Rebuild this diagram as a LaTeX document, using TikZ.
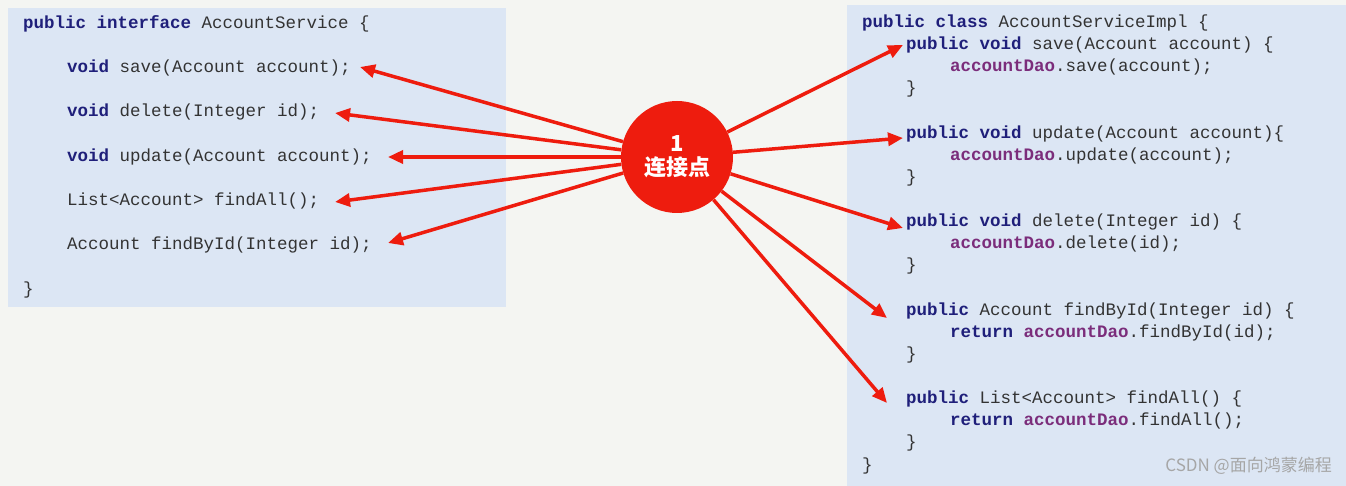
\documentclass[tikz,border=0pt]{standalone}
\usepackage{fontspec}
\setmonofont{Liberation Mono}
\newfontfamily\cjk{Noto Sans CJK SC}
\usetikzlibrary{arrows.meta}
\definecolor{bg}{HTML}{F4F5F2}
\definecolor{box}{HTML}{DCE6F4}
\definecolor{kw}{HTML}{1F1F7A}
\definecolor{dao}{HTML}{7B2D7B}
\definecolor{txt}{HTML}{333333}
\definecolor{jp}{HTML}{EE1C0E}
\newcommand{\K}[1]{{\bfseries\color{kw}#1}}
\newcommand{\D}[1]{{\bfseries\color{dao}#1}}
\tikzset{
 code/.style={anchor=west,inner sep=0pt,font=\ttfamily\fontsize{17.5}{20}\selectfont,text=txt},
 arr/.style={draw=jp,line width=3.5pt,-{Triangle[length=15pt,width=13pt]},shorten >=0pt},
}
\begin{document}
\begin{tikzpicture}[x=1pt,y=-1pt]
\useasboundingbox (0,0) rectangle (1346,486);
\fill[bg] (0,0) rectangle (1346,486);
\fill[box] (8,8) rectangle (506,307);
\fill[box] (847,5) rectangle (1346,486);
% left
\node[code] (l0) at (23,24) {\K{public interface} AccountService \{};
\node[code] (l1) at (67,68) {\K{void} save(Account account);};
\node[code] (l2) at (67,112) {\K{void} delete(Integer id);};
\node[code] (l3) at (67,157) {\K{void} update(Account account);};
\node[code] (l4) at (67,201) {List<Account> findAll();};
\node[code] (l5) at (67,245) {Account findById(Integer id);};
\node[code] (l6) at (23,290) {\}};
% right
\node[code] (r0) at (862,23) {\K{public class} AccountServiceImpl \{};
\node[code] (r1) at (906,45) {\K{public void} save(Account account) \{};
\node[code] at (950,67) {\D{accountDao}.save(account);};
\node[code] at (906,89) {\}};
\node[code] (r2) at (906,134) {\K{public void} update(Account account)\{};
\node[code] at (950,156) {\D{accountDao}.update(account);};
\node[code] at (906,178) {\}};
\node[code] (r3) at (906,222) {\K{public void} delete(Integer id) \{};
\node[code] at (950,244) {\D{accountDao}.delete(id);};
\node[code] at (906,266) {\}};
\node[code] (r4) at (906,311) {\K{public} Account findById(Integer id) \{};
\node[code] at (950,333) {\K{return} \D{accountDao}.findById(id);};
\node[code] at (906,355) {\}};
\node[code] (r5) at (906,399) {\K{public} List<Account> findAll() \{};
\node[code] at (950,421) {\K{return} \D{accountDao}.findAll();};
\node[code] at (906,443) {\}};
\node[code] at (862,466) {\}};
% circle
\node[circle,fill=jp,minimum size=112pt,inner sep=0pt,text=white,align=center,
  font=\cjk\bfseries\fontsize{22}{26}\selectfont] (c) at (677,157) {1\\[-2pt]连接点};
\coordinate (a1) at (360,67);
\coordinate (a2) at (335,113);
\coordinate (a3) at (388,157);
\coordinate (a4) at (335,202);
\coordinate (a5) at (388,243);
\coordinate (b1) at (903,45);
\coordinate (b2) at (903,138);
\coordinate (b3) at (903,228);
\coordinate (b4) at (887,318);
\coordinate (b5) at (887,403);
\foreach \t in {a1,a2,a3,a4,a5,b1,b2,b3,b4,b5} \draw[arr] (c) -- (\t);
\node[anchor=east,inner sep=0pt,text=gray!70,font=\cjk\fontsize{17}{20}\selectfont] (wm) at (1332,466) {CSDN @面向鸿蒙编程};
\end{tikzpicture}
\end{document}
